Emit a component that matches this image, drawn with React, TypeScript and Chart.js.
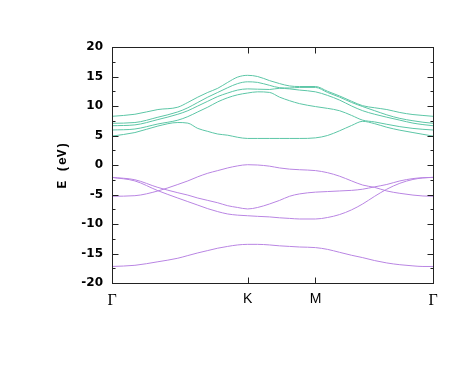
import React, { useEffect, useRef } from "react";
import { Chart, registerables } from "chart.js";

Chart.register(...registerables);

// k-path coordinates (path length units, Γ-K-M-Γ)
const kPath = [
  0, 0.225, 0.451, 0.647, 0.745, 0.843, 0.941, 1.039, 1.137, 1.235, 1.333,
  1.431, 1.549, 1.647, 1.745, 1.843, 2.0, 2.118, 2.237, 2.355, 2.464, 2.582,
  2.701, 2.829, 2.958, 3.056, 3.155,
];

const kTickValues = [0, 1.333, 2.0, 3.155];
const kTickLabels = ["Γ", "K", "M", "Γ"];

const yMin = -20;
const yMax = 20;
const yStep = 5;
const yMinorStep = 2.5;

// conduction bands (eV)
const cond1 = [4.9, 5.5, 6.6, 7.2, 7.1, 6.2, 5.7, 5.25, 5.05, 4.7, 4.5, 4.5, 4.5, 4.5, 4.5, 4.5, 4.6, 5.0, 5.8, 6.7, 7.4, 7.0, 6.4, 5.9, 5.5, 5.2, 4.9];
const cond2 = [5.93, 6.1, 6.95, 7.6, 8.2, 9.0, 9.8, 10.7, 11.4, 11.9, 12.2, 12.4, 12.3, 11.5, 10.9, 10.4, 9.9, 9.6, 9.2, 8.4, 7.6, 7.3, 6.9, 6.5, 6.2, 6.05, 5.93];
const cond3 = [6.66, 6.8, 7.7, 8.6, 9.2, 10.0, 10.8, 11.6, 12.2, 12.7, 12.9, 12.85, 12.8, 13.0, 12.9, 12.7, 12.4, 11.8, 11.0, 10.0, 9.2, 8.6, 8.1, 7.6, 7.1, 6.85, 6.66];
const cond4 = [7.07, 7.2, 8.1, 9.0, 9.7, 10.6, 11.5, 12.3, 13.1, 13.8, 14.1, 14.0, 13.5, 13.1, 13.05, 13.15, 13.15, 12.3, 11.5, 10.6, 9.9, 9.2, 8.5, 7.9, 7.5, 7.25, 7.07];
const cond5 = [8.25, 8.6, 9.4, 9.8, 10.6, 11.5, 12.3, 13.0, 14.0, 14.9, 15.2, 15.0, 14.3, 13.8, 13.4, 13.3, 13.3, 12.5, 11.7, 10.8, 10.05, 9.7, 9.4, 8.9, 8.55, 8.4, 8.25];

// valence bands (eV)
const val1 = [-17.2, -17.0, -16.4, -15.8, -15.35, -14.9, -14.5, -14.1, -13.8, -13.55, -13.45, -13.45, -13.55, -13.7, -13.8, -13.9, -14.0, -14.3, -14.8, -15.3, -15.7, -16.2, -16.6, -16.9, -17.1, -17.2, -17.2];
const val2 = [-2.1, -2.7, -4.35, -5.6, -6.2, -6.8, -7.4, -7.9, -8.3, -8.5, -8.6, -8.7, -8.8, -8.95, -9.05, -9.15, -9.15, -8.9, -8.4, -7.6, -6.6, -5.3, -4.1, -3.1, -2.45, -2.2, -2.1];
const val3 = [-2.1, -2.5, -3.8, -4.7, -5.1, -5.6, -6.0, -6.4, -6.9, -7.2, -7.45, -7.2, -6.6, -6.0, -5.3, -4.9, -4.6, -4.5, -4.4, -4.3, -4.1, -3.7, -3.3, -2.7, -2.3, -2.15, -2.1];
const val4 = [-5.3, -5.2, -4.4, -3.3, -2.7, -2.0, -1.4, -0.95, -0.5, -0.15, 0.05, 0.0, -0.2, -0.5, -0.7, -0.8, -0.95, -1.3, -1.9, -2.7, -3.4, -3.8, -4.4, -4.8, -5.1, -5.25, -5.3];

const conductionBands = [cond1, cond2, cond3, cond4, cond5];
const valenceBands = [val1, val2, val3, val4];

const condColor = "#5cc6a6";
const valColor = "#b985e3";

export default function App() {
  const ref = useRef<HTMLCanvasElement>(null);

  useEffect(() => {
    if (!ref.current) return;
    const toPts = (ys: number[]) => kPath.map((x, i) => ({ x, y: ys[i] }));
    const mk = (ys: number[], color: string) => ({
      data: toPts(ys),
      borderColor: color,
      backgroundColor: color,
      borderWidth: 1,
      pointRadius: 0,
      fill: false,
      cubicInterpolationMode: "monotone" as const,
    });
    const datasets = [
      ...conductionBands.map((b) => mk(b, condColor)),
      ...valenceBands.map((b) => mk(b, valColor)),
    ];

    const framePlugin = {
      id: "frame",
      afterDatasetsDraw(chart: any) {
        const { ctx, chartArea, scales } = chart;
        const { left, right, top, bottom } = chartArea;
        ctx.save();
        ctx.strokeStyle = "#222";
        ctx.lineWidth = 1;
        const L = Math.round(left) + 0.5;
        const R = Math.round(right) + 0.5;
        const T = Math.round(top) + 0.5;
        const B = Math.round(bottom) + 0.5;
        ctx.strokeRect(L, T, R - L, B - T);
        ctx.beginPath();
        for (let v = yMin + yMinorStep; v < yMax; v += yMinorStep) {
          const y = Math.round(scales.y.getPixelForValue(v)) + 0.5;
          const major = Math.abs(v / yStep - Math.round(v / yStep)) < 1e-6;
          const len = major ? 6 : 3;
          ctx.moveTo(L, y);
          ctx.lineTo(L + len, y);
          ctx.moveTo(R, y);
          ctx.lineTo(R - len, y);
        }
        kTickValues.slice(1, -1).forEach((v) => {
          const x = Math.round(scales.x.getPixelForValue(v)) + 0.5;
          ctx.moveTo(x, T);
          ctx.lineTo(x, T + 6);
          ctx.moveTo(x, B);
          ctx.lineTo(x, B - 6);
        });
        ctx.stroke();
        ctx.restore();
      },
    };

    const chart = new Chart(ref.current, {
      type: "line",
      data: { datasets },
      options: {
        animation: false,
        responsive: false,
        devicePixelRatio: 1,
        layout: { padding: { left: 0, top: 47, right: 41, bottom: 0 } },
        plugins: { legend: { display: false }, tooltip: { enabled: false } },
        scales: {
          x: {
            type: "linear",
            min: kTickValues[0],
            max: kTickValues[kTickValues.length - 1],
            afterBuildTicks: (s: any) => {
              s.ticks = kTickValues.map((v) => ({ value: v }));
            },
            afterFit: (s: any) => {
              s.height = 83;
            },
            grid: { display: false, drawTicks: false },
            border: { display: false },
            ticks: {
              autoSkip: false,
              maxRotation: 0,
              padding: 8,
              color: "#000",
              callback: (_v: any, i: number) => kTickLabels[i],
              font: (ctx: any) =>
                kTickLabels[ctx.index] === "Γ"
                  ? { family: "'Liberation Serif', serif", size: 16 }
                  : { family: "'Liberation Sans', Arial, sans-serif", size: 14 },
            },
          },
          y: {
            type: "linear",
            min: yMin,
            max: yMax,
            afterFit: (s: any) => {
              s.width = 112;
            },
            grid: { display: false, drawTicks: false },
            border: { display: false },
            ticks: {
              stepSize: yStep,
              padding: 9,
              color: "#000",
              font: { family: "'DejaVu Sans', sans-serif", size: 12, weight: "bold" },
            },
            title: {
              display: true,
              text: "E (eV)",
              color: "#000",
              font: { family: "'Liberation Mono', monospace", size: 13, weight: "bold" },
              padding: { top: 55, bottom: 0 },
            },
          },
        },
      },
      plugins: [framePlugin],
    } as any);

    return () => chart.destroy();
  }, []);

  return (
    <canvas
      ref={ref}
      width={474}
      height={366}
      style={{ position: "absolute", left: 0, top: 0, width: 474, height: 366 }}
    />
  );
}
